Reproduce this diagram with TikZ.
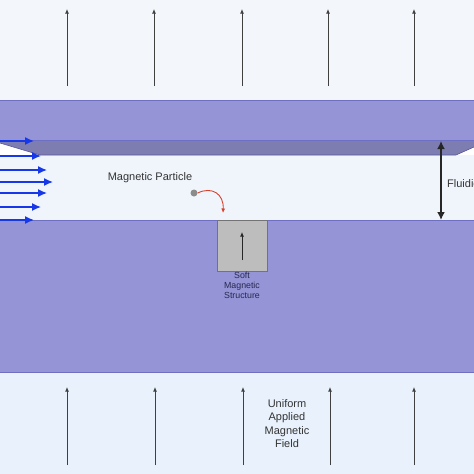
\documentclass[tikz,border=0pt]{standalone}
\usepackage{fontspec}
\setmainfont{Liberation Sans}
\usetikzlibrary{arrows.meta}
\definecolor{bgtop}{HTML}{F3F6FB}
\definecolor{bgbot}{HTML}{E9F2FC}
\definecolor{chan}{HTML}{F0F5FC}
\definecolor{purp}{HTML}{9494D6}
\definecolor{purpline}{HTML}{6E6EC2}
\definecolor{darkstrip}{HTML}{7E7DB2}
\definecolor{flowblue}{HTML}{1638E8}
\definecolor{structgray}{HTML}{BDBDBD}
\definecolor{particlered}{HTML}{D9402A}
\tikzset{
  fieldarrow/.style={draw=black!75, line width=1pt, -{Latex[length=4.5pt,width=4pt]}},
  flowarrow/.style={draw=flowblue, line width=1.4pt, -{Latex[length=9pt,width=8pt]}},
  gaparrow/.style={draw=black!85, line width=1.7pt, {Latex[length=8pt,width=8pt]}-{Latex[length=8pt,width=8pt]}},
  lbl/.style={font=\fontsize{11}{13.5}\selectfont, text=black!80, inner sep=0pt, align=center},
  smalllbl/.style={font=\fontsize{8.8}{10}\selectfont, text={rgb,255:red,40;green,40;blue,80}, inner sep=0pt, align=center}
}
\begin{document}
\begin{tikzpicture}[x=1pt,y=-1pt]
\useasboundingbox (0,0) rectangle (474,474);
\clip (0,0) rectangle (474,474);
% backgrounds
\fill[bgtop] (0,0) rectangle (474,100);
\fill[chan] (0,155) rectangle (474,220);
\fill[bgbot] (0,372) rectangle (474,474);
% top wall
\fill[purp] (0,100) rectangle (474,140);
\draw[purpline, line width=0.8pt] (0,100) -- (474,100);
\fill[darkstrip] (0,140) -- (474,140) -- (474,147) -- (456,155) -- (40,155) -- (0,143) -- cycle;
\draw[purpline, line width=0.8pt] (0,140) -- (474,140);
\draw[purpline!80!black, line width=0.6pt] (0,143) -- (40,155) -- (456,155) -- (474,147);
% bottom wall
\fill[purp] (0,220) rectangle (474,372);
\draw[purpline, line width=0.8pt] (0,220) -- (474,220);
\draw[purpline, line width=0.8pt] (0,372) -- (474,372);
% soft magnetic structure
\node[draw=black!55, fill=structgray, line width=0.8pt, minimum width=50pt, minimum height=51pt, inner sep=0pt, anchor=north west] (sms) at (217,220) {};
\coordinate (smsb) at (242,260);
\coordinate (smst) at (242,232);
\draw[draw=black!85, line width=0.9pt, -{Latex[length=4.5pt,width=4pt]}] (smsb) -- (smst);
\node[smalllbl, anchor=north] (smslbl) at (242,271.5) {Soft\\Magnetic\\Structure};
% top field arrows
\foreach \i/\x in {1/67,2/154,3/242,4/328,5/414}{
  \coordinate (tb\i) at (\x,86);
  \coordinate (tt\i) at (\x,9);
  \draw[fieldarrow] (tb\i) -- (tt\i);
}
% bottom field arrows
\foreach \i/\x in {1/67,2/155,3/243,4/330,5/414}{
  \coordinate (bb\i) at (\x,465);
  \coordinate (bt\i) at (\x,387);
  \draw[fieldarrow] (bb\i) -- (bt\i);
}
\node[lbl, anchor=north] (field) at (287,399) {Uniform\\Applied\\Magnetic\\Field};
% flow arrows
\foreach \i/\y/\e in {1/141/34,2/156/41,3/170/47,4/182/53,5/193/47,6/207/41,7/220/34}{
  \coordinate (fs\i) at (0,\y);
  \coordinate (fe\i) at (\e,\y);
  \draw[flowarrow] (fs\i) -- (fe\i);
}
% gap arrow
\coordinate (gt) at (441,141);
\coordinate (gb) at (441,220);
\draw[gaparrow] (gt) -- (gb);
\node[lbl, anchor=west] (fluid) at (447,184) {Fluidic};
% particle
\node[lbl, anchor=center] (mp) at (150,178) {Magnetic Particle};
\node[circle, fill=black!45, minimum size=7pt, inner sep=0pt] (part) at (194,193) {};
\coordinate (pend) at (223,213);
\draw[particlered, line width=0.9pt, -{Latex[length=4.5pt,width=4pt]}] (part.east) .. controls (212,186) and (224,194) .. (pend);
\end{tikzpicture}
\end{document}
